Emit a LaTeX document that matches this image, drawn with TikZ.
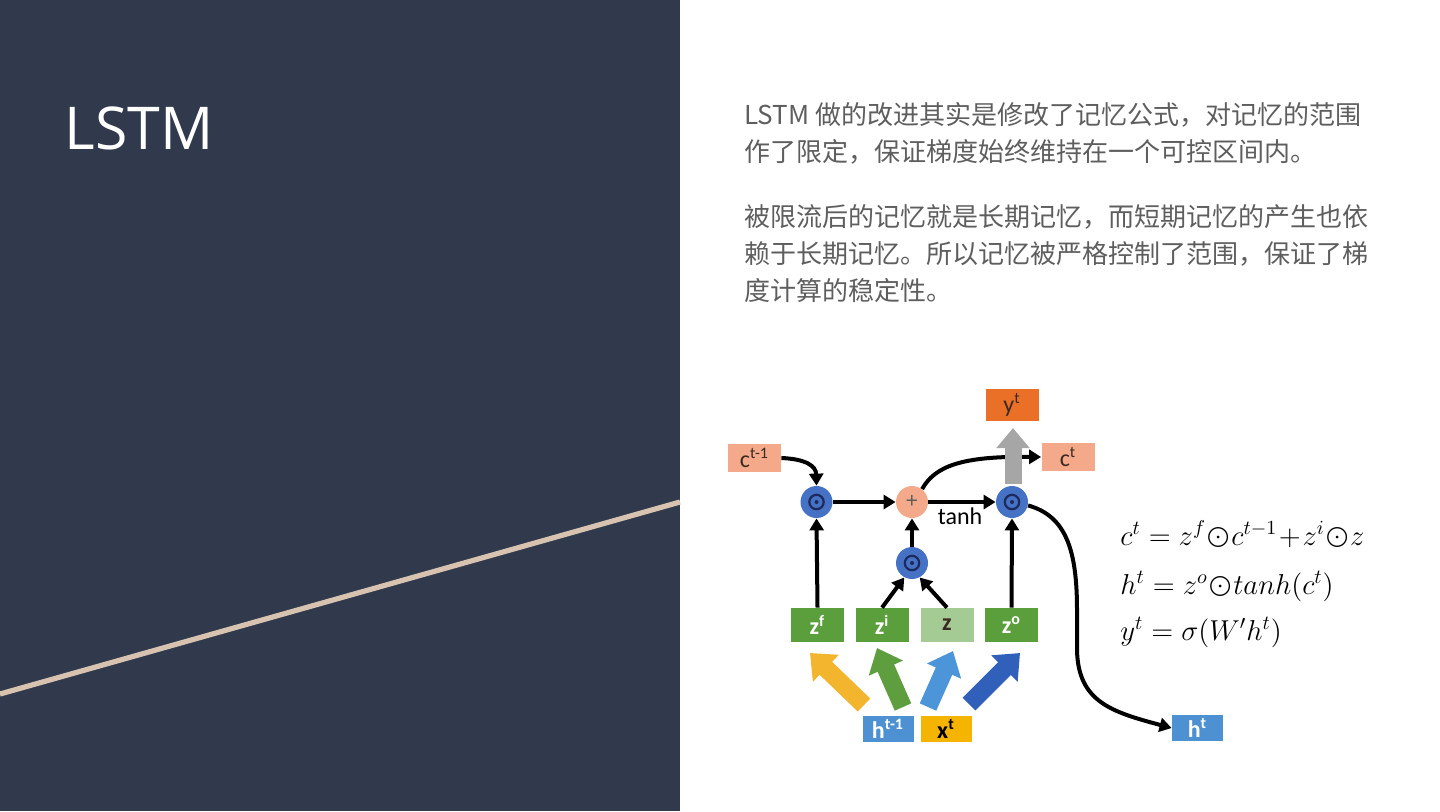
\documentclass[tikz,border=0pt]{standalone}
\usepackage{fontspec}
\setmainfont{Open Sans}
\newfontfamily\cjkfnt{Noto Sans CJK SC}
\newfontfamily\calfnt{Carlito}
\usetikzlibrary{arrows.meta}
\definecolor{bgdark}{HTML}{313A4C}
\definecolor{beige}{HTML}{D8C3B1}
\definecolor{txtgray}{HTML}{5E5E5E}
\definecolor{salmon}{HTML}{F4A98A}
\definecolor{orng}{HTML}{EA7028}
\definecolor{cblue}{HTML}{4672C6}
\definecolor{navy}{HTML}{1C2A5C}
\definecolor{gr}{HTML}{5B9E3C}
\definecolor{lgr}{HTML}{A3CB93}
\definecolor{hblue}{HTML}{4D91D3}
\definecolor{xyel}{HTML}{F5B400}
\definecolor{ayel}{HTML}{F4B52E}
\definecolor{agr}{HTML}{5E9E3E}
\definecolor{alb}{HTML}{4B95D8}
\definecolor{adb}{HTML}{3160BA}
\definecolor{ggray}{HTML}{A6A6A6}
\definecolor{dtxt}{HTML}{3A2A22}
\newcommand{\bodot}{\mathbin{\bigodot}}
\begin{document}
\begin{tikzpicture}[x=0.5pt,y=-0.5pt,
  box/.style={minimum width=26.5pt,minimum height=14pt,inner sep=0pt,font=\calfnt\fontsize{12}{13}\selectfont},
  lowbox/.style={box,minimum height=17pt,fill=gr,text=white,font=\calfnt\bfseries\fontsize{12}{13}\selectfont},
  inbox/.style={box,minimum height=13pt,minimum width=25.5pt,font=\calfnt\bfseries\fontsize{12}{13}\selectfont},
  odot/.style={circle,fill=cblue,minimum size=16pt,inner sep=0pt,
    path picture={\draw[navy,line width=1.1pt] (path picture bounding box.center) circle (3.6pt);
      \fill[navy] (path picture bounding box.center) circle (1pt);}},
  plusc/.style={circle,fill=salmon,minimum size=16pt,inner sep=0pt,text=txtgray,font=\fontsize{11}{11}\selectfont},
  conn/.style={line width=2pt,-{Triangle[length=6pt,width=7pt]}},
  fat/.style={line width=9pt,-{Triangle[length=11pt,width=18pt]}},
  cjktext/.style={anchor=base west,inner sep=0pt,text=txtgray,font=\cjkfnt\fontsize{13}{15}\selectfont},
  eq/.style={anchor=base west,inner sep=0pt,font=\fontsize{14}{16}\selectfont}
]
\useasboundingbox (0,0) rectangle (1440,811);
\fill[white] (0,0) rectangle (1440,811);
\fill[bgdark] (0,0) rectangle (680,811);
\draw[beige,line width=2.6pt] (0,694) -- (680,502);

\node[anchor=base west,inner sep=0pt,text=white,font=\fontsize{29.5}{32}\selectfont] (title) at (64,149) {LSTM};

\node[cjktext] (l1) at (744,124) {LSTM 做的改进其实是修改了记忆公式，对记忆的范围};
\node[cjktext] (l2) at (744,161) {作了限定，保证梯度始终维持在一个可控区间内。};
\node[cjktext] (l3) at (744,226) {被限流后的记忆就是长期记忆，而短期记忆的产生也依};
\node[cjktext] (l4) at (744,263) {赖于长期记忆。所以记忆被严格控制了范围，保证了梯};
\node[cjktext] (l5) at (744,300) {度计算的稳定性。};

% boxes
\node[box,fill=salmon,text=dtxt] (ct1) at (754.5,458) {c\textsuperscript{t-1}};
\node[box,fill=orng,text=dtxt,minimum height=16pt] (yt) at (1012,405) {y\textsuperscript{t}};
\node[box,fill=salmon,text=dtxt] (ct) at (1068,457) {c\textsuperscript{t}};

\node[odot] (lc) at (816.5,502) {};
\node[plusc] (plus) at (912,502) {+};
\node[odot] (rc) at (1012,502) {};
\node[odot] (bc) at (912,563) {};

\node[lowbox] (zf) at (817.5,625) {z\textsuperscript{f}};
\node[lowbox] (zi) at (882,625) {z\textsuperscript{i}};
\node[lowbox,fill=lgr,text=dtxt] (z) at (947,625) {z};
\node[lowbox] (zo) at (1011.5,625) {z\textsuperscript{o}};

\node[inbox,fill=hblue,text=white] (htm1) at (888,729) {h\textsuperscript{t-1}};
\node[inbox,fill=xyel,text=black] (xt) at (946,729) {x\textsuperscript{t}};
\node[inbox,fill=hblue,text=white] (ht) at (1197.5,728) {h\textsuperscript{t}};

\node[font=\calfnt\fontsize{12}{13}\selectfont,text=black] (tanh) at (960,516) {tanh};

% connectors
\draw[conn] (ct1.east) .. controls (806,459) and (816,466) .. (lc.north);
\draw[conn] (lc.east) -- (plus.west);
\draw[conn] (plus.east) -- (rc.west);
\draw[conn] (plus.52) .. controls (935,466) and (962,456) .. (ct.west);
\draw[conn] (rc.-12) .. controls (1066,516) and (1077,550) .. (1077,610) -- (1077,650) .. controls (1078,702) and (1112,712) .. (ht.west);
\draw[conn] (zf.north) -- (lc.south);
\draw[conn] (zo.north) -- (rc.south);
\draw[conn] (zi.north) -- (bc.-118);
\draw[conn] (z.north) -- (bc.-62);
\draw[conn] (bc.north) -- (plus.south);

% gray output arrow
\coordinate (gs) at (1013,484);
\coordinate (ge) at (1013,428);
\draw[ggray,line width=8.5pt,-{Triangle[length=10pt,width=16pt]}] (gs) -- (ge);

% fat input arrows
\coordinate (ys) at (864,705); \coordinate (ye) at (810,653);
\coordinate (gns) at (903,707); \coordinate (gne) at (877,648);
\coordinate (lbs) at (928,707); \coordinate (lbe) at (953,651);
\coordinate (dbs) at (969,704); \coordinate (dbe) at (1020,653);
\draw[fat,ayel] (ys) -- (ye);
\draw[fat,agr] (gns) -- (gne);
\draw[fat,alb] (lbs) -- (lbe);
\draw[fat,adb] (dbs) -- (dbe);

% equations
\node[eq] (e1) at (1120,545) {$c^t = z^f\!\bodot\! c^{t-1}\!+\!z^i\!\bodot\! z$};
\node[eq] (e2) at (1120,594) {$h^t = z^o\!\bodot\! tanh(c^t)$};
\node[eq] (e3) at (1120,640) {$y^t = \sigma(W'h^t)$};
\end{tikzpicture}
\end{document}
